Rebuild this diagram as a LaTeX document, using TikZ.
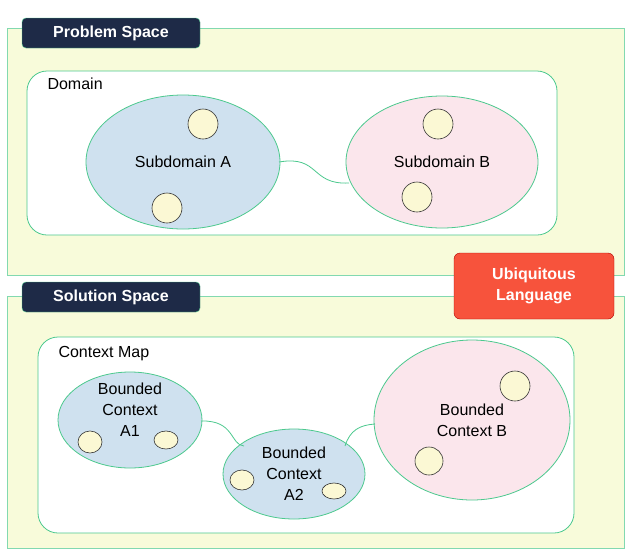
\documentclass[tikz,border=0pt]{standalone}
\usepackage{fontspec}
\setmainfont{Liberation Sans}
\usetikzlibrary{shapes.geometric}
\definecolor{bord}{HTML}{4CC98E}
\definecolor{sp}{HTML}{F8FBDA}
\definecolor{nav}{HTML}{1E2A47}
\definecolor{lb}{HTML}{CFE1EF}
\definecolor{lp}{HTML}{FBE6EC}
\definecolor{dt}{HTML}{FBF8D4}
\definecolor{ur}{HTML}{F7533C}
\begin{document}
\begin{tikzpicture}[x=1pt,y=-1pt,
  space/.style={draw=bord!70, fill=sp, line width=0.8pt},
  inner/.style={draw=bord, fill=white, rounded corners=20pt, line width=0.8pt},
  tag/.style={fill=nav, text=white, font=\bfseries\fontsize{16}{18}\selectfont, rounded corners=4pt, draw=bord, minimum width=178pt, minimum height=30pt},
  bluee/.style={draw=bord, fill=lb, line width=0.8pt, align=center, font=\fontsize{16}{21}\selectfont},
  pinke/.style={draw=bord, fill=lp, line width=0.8pt, align=center, font=\fontsize{16}{21}\selectfont},
  dot/.style={draw=black!80, fill=dt, line width=0.6pt},
  conn/.style={draw=bord, line width=0.8pt},
  lbl/.style={font=\fontsize{16}{18}\selectfont, anchor=west}]
\useasboundingbox (0,0) rectangle (630,550);
\fill[white] (0,0) rectangle (630,550);
% Problem space
\draw[space] (7,28) rectangle (624,275);
\draw[inner] (27,71) rectangle (557,235);
\node[lbl] (dom) at (44,84) {Domain};
\node[tag] (ps) at (111,33) {Problem Space};
\node[bluee, ellipse, minimum width=194pt, minimum height=134pt] (sa) at (183,162) {Subdomain A};
\node[pinke, ellipse, minimum width=192pt, minimum height=132pt] (sb) at (442,162) {Subdomain B};
\draw[dot] (203,124) circle (15);
\draw[dot] (167,208) circle (15);
\draw[dot] (438,124) circle (15);
\draw[dot] (417,197) circle (15);
\coordinate (sa1) at (279,162);
\coordinate (sb1) at (349,183);
\draw[conn] (sa1) .. controls (320,155) and (310,185) .. (sb1);
% Solution space
\draw[space] (7,296) rectangle (624,548);
\draw[inner] (38,337) rectangle (574,533);
\node[lbl] (cm) at (55,354) {Context Map};
\node[tag] (ss) at (111,297) {Solution Space};
\node[fill=ur, draw=red!70!black, text=white, rounded corners=6pt, minimum width=160pt, minimum height=66pt, align=center, font=\bfseries\fontsize{16}{21}\selectfont] (ul) at (534,286) {Ubiquitous\\Language};
\node[bluee, ellipse, minimum width=144pt, minimum height=96pt] (a1) at (130,420) {};
\node[font=\fontsize{16}{21}\selectfont, align=center] (a1t) at (130,410) {Bounded\\Context\\A1};
\node[bluee, ellipse, minimum width=142pt, minimum height=90pt] (a2) at (294,474) {Bounded\\Context\\A2};
\node[pinke, ellipse, minimum width=196pt, minimum height=160pt] (bb) at (472,420) {Bounded\\Context B};
\draw[dot] (90,442) ellipse (12 and 11);
\draw[dot] (166,440) ellipse (12 and 9);
\draw[dot] (242,480) ellipse (12 and 10);
\draw[dot] (334,491) ellipse (12 and 8);
\draw[dot] (515,386) circle (15);
\draw[dot] (429,461) circle (14);
\coordinate (a1r) at (201,421);
\coordinate (a2l) at (244,446);
\coordinate (a2r) at (345,446);
\coordinate (bl) at (375,424);
\draw[conn] (a1r) .. controls (235,420) and (230,445) .. (a2l);
\draw[conn] (a2r) .. controls (350,430) and (360,425) .. (bl);
\end{tikzpicture}
\end{document}
